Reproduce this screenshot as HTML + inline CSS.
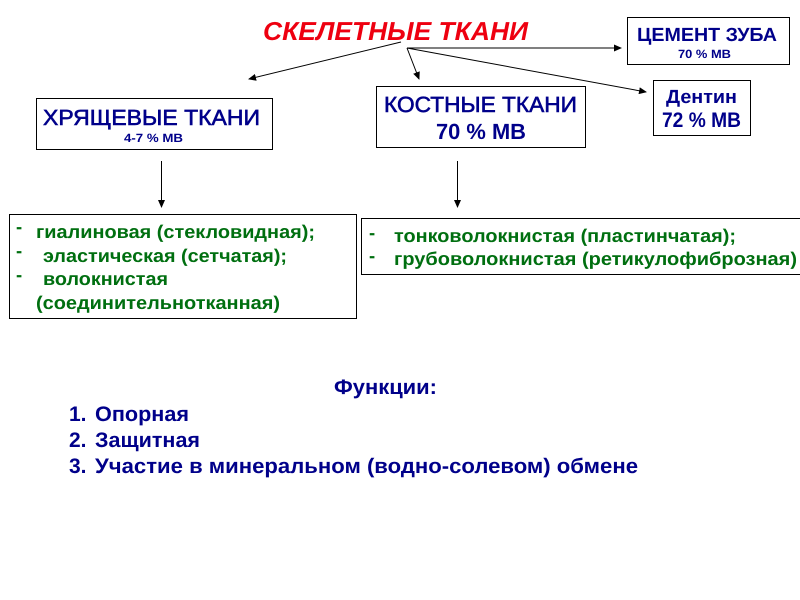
<!DOCTYPE html>
<html><head><meta charset="utf-8"><style>
html,body{margin:0;padding:0;background:#fff;overflow:hidden}
svg{display:block;font-family:"Liberation Sans",sans-serif}
.n{fill:#00008a;font-weight:bold}
.g{fill:#006f10;font-weight:bold;font-size:18.5px}
.f{fill:#00008a;font-weight:bold;font-size:21px}
rect{fill:#fff;stroke:#000;stroke-width:1}
line{stroke:#000;stroke-width:1}
</style></head><body>
<svg width="800" height="600" viewBox="0 0 800 600" xmlns="http://www.w3.org/2000/svg" text-rendering="geometricPrecision">
<defs><marker id="a" markerWidth="8" markerHeight="7" refX="7" refY="3.5" orient="auto" markerUnits="userSpaceOnUse"><path d="M0 0L8 3.5L0 7Z" fill="#000"/></marker></defs>
<rect x="627.5" y="17.5" width="162" height="47"/>
<rect x="653.5" y="80.5" width="97" height="55"/>
<rect x="376.5" y="86.5" width="209" height="61"/>
<rect x="36.5" y="98.5" width="236" height="51"/>
<rect x="9.5" y="214.5" width="347" height="104"/>
<rect x="361.5" y="218.5" width="445" height="56"/>
<line x1="401" y1="42" x2="249" y2="79" marker-end="url(#a)"/>
<line x1="407" y1="48" x2="621" y2="48" marker-end="url(#a)"/>
<line x1="407" y1="48" x2="419" y2="79" marker-end="url(#a)"/>
<line x1="407" y1="48" x2="646" y2="92" marker-end="url(#a)"/>
<line x1="161.5" y1="161" x2="161.5" y2="207" marker-end="url(#a)"/>
<line x1="457.5" y1="161" x2="457.5" y2="207" marker-end="url(#a)"/>
<text x="263" y="40" fill="#ee0010" font-size="26" font-weight="bold" font-style="italic" textLength="265" lengthAdjust="spacingAndGlyphs">СКЕЛЕТНЫЕ ТКАНИ</text>
<text class="n" x="637" y="41" font-size="19" textLength="140" lengthAdjust="spacingAndGlyphs">ЦЕМЕНТ ЗУБА</text>
<text class="n" x="678" y="58" font-size="12" textLength="53" lengthAdjust="spacingAndGlyphs">70 % МВ</text>
<text class="n" x="666" y="103" font-size="19" textLength="71" lengthAdjust="spacingAndGlyphs">Дентин</text>
<text class="n" x="662" y="127" font-size="21" textLength="79" lengthAdjust="spacingAndGlyphs">72 % МВ</text>
<text class="n" x="384" y="112" font-size="22" textLength="193" lengthAdjust="spacingAndGlyphs" style="font-weight:normal;stroke:#00008a;stroke-width:.6">КОСТНЫЕ ТКАНИ</text>
<text class="n" x="436" y="139" font-size="22" textLength="90" lengthAdjust="spacingAndGlyphs">70 % МВ</text>
<text class="n" x="43" y="125" font-size="22" textLength="217" lengthAdjust="spacingAndGlyphs" style="font-weight:normal;stroke:#00008a;stroke-width:.6">ХРЯЩЕВЫЕ ТКАНИ</text>
<text class="n" x="124" y="142" font-size="12" textLength="59" lengthAdjust="spacingAndGlyphs">4-7 % МВ</text>
<g class="g">
<text x="16" y="233">-</text><text x="16" y="257">-</text><text x="16" y="281">-</text>
<text x="36" y="238" textLength="279" lengthAdjust="spacingAndGlyphs">гиалиновая (стекловидная);</text>
<text x="43" y="262" textLength="244" lengthAdjust="spacingAndGlyphs">эластическая (сетчатая);</text>
<text x="43" y="285" textLength="125" lengthAdjust="spacingAndGlyphs">волокнистая</text>
<text x="36" y="309" textLength="244" lengthAdjust="spacingAndGlyphs">(соединительнотканная)</text>
<text x="369" y="239">-</text><text x="369" y="262">-</text>
<text x="394" y="242" textLength="342" lengthAdjust="spacingAndGlyphs">тонковолокнистая (пластинчатая);</text>
<text x="394" y="265" textLength="403" lengthAdjust="spacingAndGlyphs">грубоволокнистая (ретикулофиброзная)</text>
</g>
<g class="f">
<text x="334" y="394" textLength="103" lengthAdjust="spacingAndGlyphs">Функции:</text>
<text x="69" y="421">1.</text><text x="95" y="421" textLength="94" lengthAdjust="spacingAndGlyphs">Опорная</text>
<text x="69" y="447">2.</text><text x="95" y="447" textLength="105" lengthAdjust="spacingAndGlyphs">Защитная</text>
<text x="69" y="473">3.</text><text x="95" y="473" textLength="543" lengthAdjust="spacingAndGlyphs">Участие в минеральном (водно-солевом) обмене</text>
</g>
</svg>
</body></html>
